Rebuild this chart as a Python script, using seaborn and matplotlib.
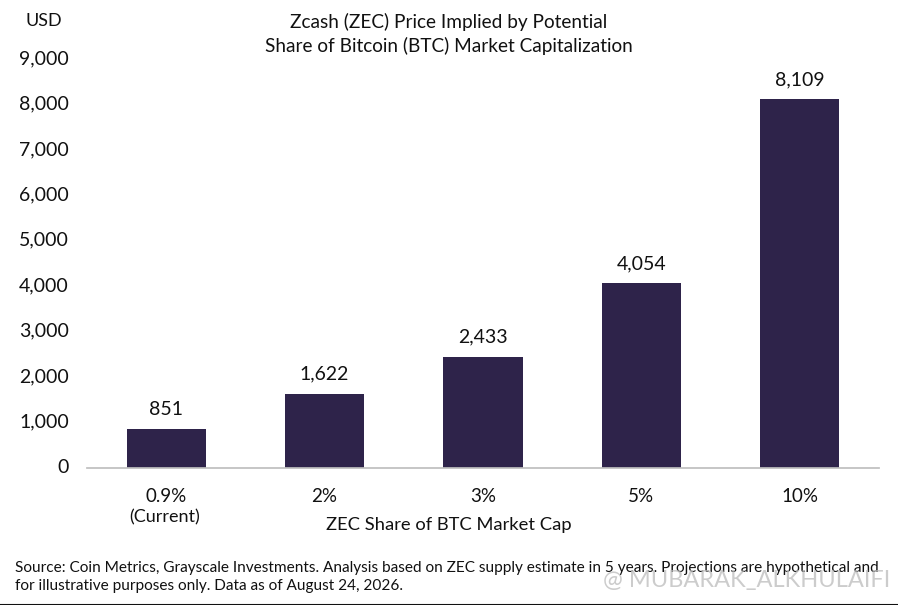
import matplotlib
matplotlib.use("Agg")
import matplotlib.pyplot as plt
import seaborn as sns
import pandas as pd

categories = ["0.9%", "2%", "3%", "5%", "10%"]
current_note = "(Current)"
prices = [851, 1622, 2433, 4054, 8109]
value_labels = ["851", "1,622", "2,433", "4,054", "8,109"]
yticks = [0, 1000, 2000, 3000, 4000, 5000, 6000, 7000, 8000, 9000]
title = "Zcash (ZEC) Price Implied by Potential\nShare of Bitcoin (BTC) Market Capitalization"
xlabel = "ZEC Share of BTC Market Cap"
source = ("Source: Coin Metrics, Grayscale Investments. Analysis based on ZEC supply estimate in 5 years. "
          "Projections are hypothetical and\nfor illustrative purposes only. Data as of August 24, 2026.")
watermark = "@ MUBARAK_ALKHULAIFI"

sns.set_theme(style="white")
plt.rcParams['font.family'] = ['Lato', 'DejaVu Sans']
fig = plt.figure(figsize=(8.98, 6.05), dpi=100)
ax = fig.add_axes([87/898, 1-467.5/605, (879-87)/898, (467.5-58.5)/605])
df = pd.DataFrame({"cat": categories, "price": prices})
sns.barplot(data=df, x="cat", y="price", color="#2E234A", saturation=1, width=0.5, linewidth=0, ax=ax)
ax.set_ylim(0, 9000)
ax.set_xlim(-0.5, 4.5)
ax.set_yticks(yticks)
ax.set_yticklabels([f"{v:,}" for v in yticks], fontsize=14, color="#111111", va="center")
ax.tick_params(axis='x', labelsize=13.5, length=0, pad=15, colors="#111111")
ax.tick_params(axis='y', length=0, pad=13)
ax.set_xlabel("")
ax.set_ylabel("")
for s in ["top", "right", "left"]:
    ax.spines[s].set_visible(False)
ax.spines["bottom"].set_color("#BFBFBF")
for i, (v, l) in enumerate(zip(prices, value_labels)):
    ax.annotate(l, (i, v), xytext=(0, 8), textcoords="offset points", ha="center", va="bottom", fontsize=14, color="#111111")
ax.annotate(current_note, (0, 0), xycoords=("data", "axes fraction"), xytext=(-1, -36), textcoords="offset points",
            ha="center", va="center", fontsize=13, color="#111111")
fig.text(449/898, 1-34/605, title, ha="center", va="center", fontsize=13.7, color="#111111", linespacing=1.45)
fig.text(44/898, 1-21/605, "USD", ha="center", va="center", fontsize=13, color="#111111")
fig.text(449/898, 1-525/605, xlabel, ha="center", va="center", fontsize=13.25, color="#111111")
fig.text(15/898, 1-577/605, source, ha="left", va="center", fontsize=11.1, color="#111111", linespacing=1.45)
fig.text(890/898, 1-581/605, watermark, ha="right", va="center", fontsize=17, color="#BBBBBB", alpha=0.75)
fig.add_artist(plt.Line2D([0, 1], [0.5/605, 0.5/605], color="#111111", lw=1.5))
fig.savefig("out.png", dpi=100)
